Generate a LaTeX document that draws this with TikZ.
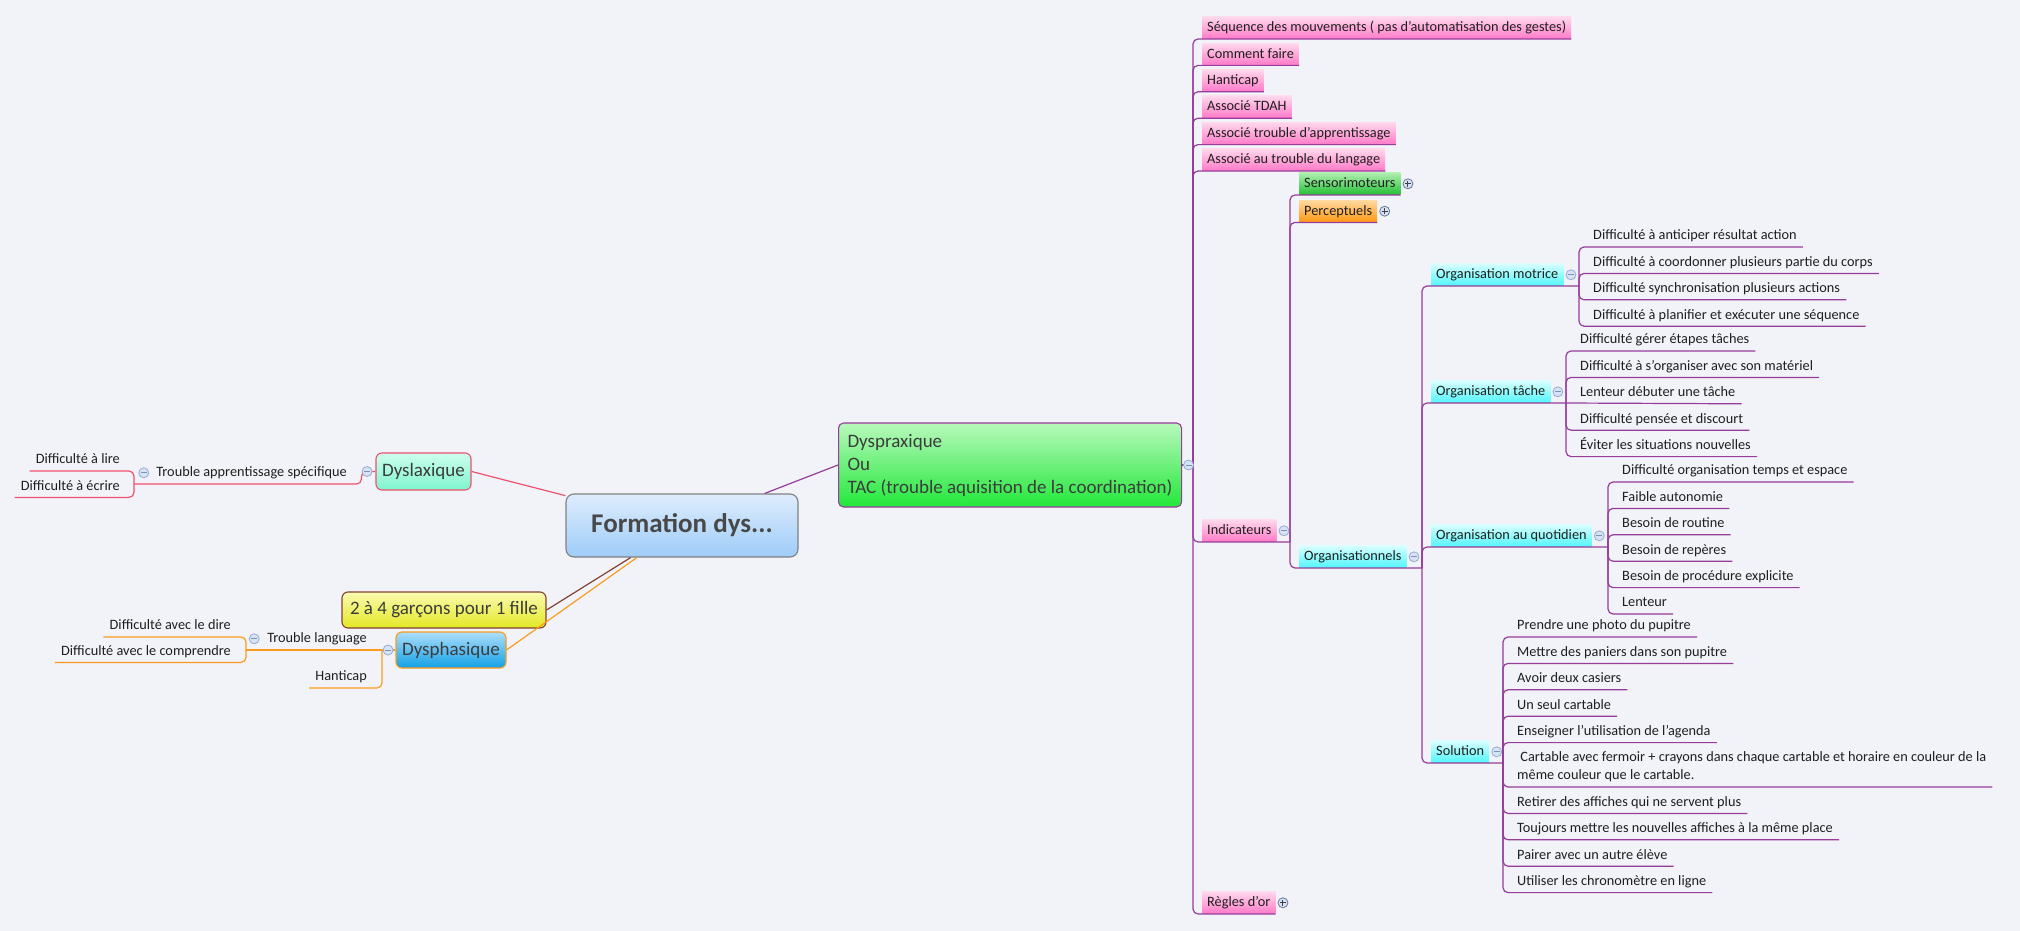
\documentclass[tikz,border=0pt]{standalone}
\usepackage{fontspec}
\setmainfont{Carlito}
\usetikzlibrary{positioning}

\definecolor{bgcol}{RGB}{242,243,248}
\definecolor{plum}{RGB}{150,60,155}
\definecolor{rose}{RGB}{240,80,110}
\definecolor{amber}{RGB}{250,155,30}
\definecolor{umber}{RGB}{130,65,50}
\definecolor{inkgray}{RGB}{60,60,60}
\definecolor{foldfill}{RGB}{214,226,245}
\definecolor{folddraw}{RGB}{150,172,212}

\begin{document}
\begin{tikzpicture}[
    x=1pt, y=-1pt,
    smalltext/.style={font=\fontsize{14.3}{18}\selectfont, text=black!88},
    bigtext/.style={font=\fontsize{19}{23}\selectfont, text=inkgray},
    topic/.style={rectangle, rounded corners=6pt, line width=1.1pt, bigtext, inner sep=0pt},
    tagbox/.style={rectangle, smalltext, inner xsep=5pt, inner ysep=4pt,
                   text height=11pt, text depth=3pt},
    pinkbox/.style={tagbox, top color={rgb,255:red,255;green,216;blue,236},
                    bottom color={rgb,255:red,255;green,122;blue,200}},
    cyanbox/.style={tagbox, top color={rgb,255:red,216;green,255;blue,255},
                    bottom color={rgb,255:red,80;green,246;blue,250}},
    greenbox/.style={tagbox, top color={rgb,255:red,176;green,238;blue,176},
                     bottom color={rgb,255:red,34;green,192;blue,52}},
    orangebox/.style={tagbox, top color={rgb,255:red,255;green,216;blue,160},
                      bottom color={rgb,255:red,255;green,152;blue,18}},
    leafbase/.style={smalltext, inner xsep=6pt, inner ysep=4pt},
    leaf/.style={leafbase, text height=11pt, text depth=3pt},
    fold/.style={circle, draw=folddraw, fill=foldfill, minimum size=10pt,
                 inner sep=0pt, line width=0.8pt},
    foldminus/.style={fold, path picture={
        \draw[folddraw!85!black, line width=1pt]
          ([xshift=-3pt]path picture bounding box.center) -- ([xshift=3pt]path picture bounding box.center);}},
    foldplus/.style={fold, draw=folddraw!70!black, path picture={
        \draw[black!75, line width=1pt]
          ([xshift=-3pt]path picture bounding box.center) -- ([xshift=3pt]path picture bounding box.center)
          ([yshift=-3pt]path picture bounding box.center) -- ([yshift=3pt]path picture bounding box.center);}},
    branch/.style={line width=1.2pt, rounded corners=5pt}
]
\path[use as bounding box, fill=bgcol] (0,0) rectangle (2020,931);

% central topic and main branches
\node[topic, draw=black!50, rounded corners=8pt, minimum width=232pt, minimum height=63pt,
      top color={rgb,255:red,222;green,237;blue,253}, bottom color={rgb,255:red,158;green,204;blue,248},
      font=\fontsize{27}{32}\selectfont\bfseries, text={rgb,255:red,72;green,72;blue,72}]
      (root) at (682,525.5) {Formation dys...};
\node[topic, draw=plum, rounded corners=5pt, minimum width=343pt, minimum height=84pt, align=left,
      inner xsep=7pt,
      top color={rgb,255:red,184;green,249;blue,188}, bottom color={rgb,255:red,34;green,232;blue,58},
      anchor=west] (prax) at (838,465) {Dyspraxique\\Ou\\TAC (trouble aquisition de la coordination)};
\node[topic, draw=rose, minimum width=95pt, minimum height=37pt,
      top color={rgb,255:red,204;green,255;blue,238}, bottom color={rgb,255:red,128;green,244;blue,206}]
      (dysl) at (423.5,471.5) {Dyslaxique};
\node[topic, draw=umber, minimum width=204pt, minimum height=36pt,
      top color={rgb,255:red,250;green,250;blue,176}, bottom color={rgb,255:red,228;green,232;blue,36}]
      (ratio) at (444,610) {2 à 4 garçons pour 1 fille};
\node[topic, draw=amber, minimum width=110pt, minimum height=36pt,
      top color={rgb,255:red,172;green,222;blue,250}, bottom color={rgb,255:red,18;green,160;blue,230}]
      (dysph) at (451,650) {Dysphasique};

% Dyslaxique side
\node[leaf, anchor=south east] (spec) at (353,484) {Trouble apprentissage spécifique};
\node[leaf, anchor=south east] (lire) at (126,471) {Difficulté à lire};
\node[leaf, below=4pt of lire.south east, anchor=north east] (ecrire) {Difficulté à écrire};

% Dysphasique side
\node[leaf, anchor=south east] (tlang) at (373,650) {Trouble language};
\node[leaf, anchor=south east] (handi) at (373,688) {Hanticap};
\node[leaf, anchor=south east] (dire) at (237,637) {Difficulté avec le dire};
\node[leaf, below=3pt of dire.south east, anchor=north east] (compr) {Difficulté avec le comprendre};

% Dyspraxique, first level
\node[pinkbox, anchor=south west] (seq) at (1202,39) {Séquence des mouvements ( pas d'automatisation des gestes)};
\node[pinkbox, below=4pt of seq.south west, anchor=north west] (comment) {Comment faire};
\node[pinkbox, below=4pt of comment.south west, anchor=north west] (hanti) {Hanticap};
\node[pinkbox, below=4pt of hanti.south west, anchor=north west] (tdah) {Associé TDAH};
\node[pinkbox, below=4pt of tdah.south west, anchor=north west] (appr) {Associé trouble d'apprentissage};
\node[pinkbox, below=4pt of appr.south west, anchor=north west] (lang) {Associé au trouble du langage};
\node[pinkbox, anchor=south west] (indic) at (1202,542) {Indicateurs};
\node[pinkbox, anchor=south west] (regles) at (1202,914) {Règles d'or};

% Indicateurs
\node[greenbox, anchor=south west] (senso) at (1299,195) {Sensorimoteurs};
\node[orangebox, below=5pt of senso.south west, anchor=north west] (percep) {Perceptuels};
\node[cyanbox, anchor=south west] (orga) at (1299,568) {Organisationnels};

% Organisationnels
\node[cyanbox, anchor=south west] (motrice) at (1431,286) {Organisation motrice};
\node[cyanbox, anchor=south west] (tache) at (1431,403) {Organisation tâche};
\node[cyanbox, anchor=south west] (quoti) at (1431,547) {Organisation au quotidien};
\node[cyanbox, anchor=south west] (solu) at (1431,763) {Solution};

\node[leaf, anchor=south west] (m1) at (1587,247) {Difficulté à anticiper résultat action};
\node[leaf, below=4pt of m1.south west, anchor=north west] (m2) {Difficulté à coordonner plusieurs partie du corps};
\node[leaf, below=4pt of m2.south west, anchor=north west] (m3) {Difficulté synchronisation plusieurs actions};
\node[leaf, below=4pt of m3.south west, anchor=north west] (m4) {Difficulté à planifier et exécuter une séquence};

\node[leaf, anchor=south west] (t1) at (1574,351) {Difficulté gérer étapes tâches};
\node[leaf, below=4pt of t1.south west, anchor=north west] (t2) {Difficulté à s'organiser avec son matériel};
\node[leaf, below=4pt of t2.south west, anchor=north west] (t3) {Lenteur débuter une tâche};
\node[leaf, below=4pt of t3.south west, anchor=north west] (t4) {Difficulté pensée et discourt};
\node[leaf, below=4pt of t4.south west, anchor=north west] (t5) {Éviter les situations nouvelles};

\node[leaf, anchor=south west] (q1) at (1616,482) {Difficulté organisation temps et espace};
\node[leaf, below=4pt of q1.south west, anchor=north west] (q2) {Faible autonomie};
\node[leaf, below=4pt of q2.south west, anchor=north west] (q3) {Besoin de routine};
\node[leaf, below=4pt of q3.south west, anchor=north west] (q4) {Besoin de repères};
\node[leaf, below=4pt of q4.south west, anchor=north west] (q5) {Besoin de procédure explicite};
\node[leaf, below=4pt of q5.south west, anchor=north west] (q6) {Lenteur};

\node[leaf, anchor=south west] (s1) at (1511,637) {Prendre une photo du pupitre};
\node[leaf, below=4pt of s1.south west, anchor=north west] (s2) {Mettre des paniers dans son pupitre};
\node[leaf, below=4pt of s2.south west, anchor=north west] (s3) {Avoir deux casiers};
\node[leaf, below=4pt of s3.south west, anchor=north west] (s4) {Un seul cartable};
\node[leaf, below=4pt of s4.south west, anchor=north west] (s5) {Enseigner l'utilisation de l'agenda};
\node[leafbase, align=left, minimum height=40pt, below=4pt of s5.south west, anchor=north west] (s6)
     {\ Cartable avec fermoir + crayons dans chaque cartable et horaire en couleur de la\\même couleur que le cartable.};
\node[leaf, below=4pt of s6.south west, anchor=north west] (s7) {Retirer des affiches qui ne servent plus};
\node[leaf, below=4pt of s7.south west, anchor=north west] (s8) {Toujours mettre les nouvelles affiches à la même place};
\node[leaf, below=4pt of s8.south west, anchor=north west] (s9) {Pairer avec un autre élève};
\node[leaf, below=4pt of s9.south west, anchor=north west] (s10) {Utiliser les chronomètre en ligne};

% links from the central topic
\draw[branch, rose]  (root) -- (dysl.east);
\draw[branch, umber] (root) -- (ratio.east);
\draw[branch, amber] (root) -- (dysph.east);
\draw[branch, plum]  (root) -- (prax.west);

% left branches
\coordinate (jspec) at (134,484);
\draw[branch, rose] (dysl.west) -- ++(-14,0) |- (jspec);
\draw[branch, rose] (jspec) |- (lire.south west);
\draw[branch, rose] (jspec) |- (ecrire.south west);

\coordinate (jdys) at (382,650);
\coordinate (jlang) at (246,650);
\draw[branch, amber] (dysph.west) -- (jdys) -- (jlang);
\draw[branch, amber] (jdys) |- (handi.south west);
\draw[branch, amber] (jlang) |- (dire.south west);
\draw[branch, amber] (jlang) |- (compr.south west);

% right branches
\coordinate (j1) at (1193,465);
\coordinate (j2) at (1290,542);
\coordinate (j3) at (1422,568);
\coordinate (j4) at (1579,286);
\coordinate (j5) at (1566,403);
\coordinate (j6) at (1608,547);
\coordinate (j7) at (1503,763);
\draw[branch, plum] (prax.east) -- (j1);
\draw[branch, plum] (j1) |- (seq.south east);
\draw[branch, plum] (j1) |- (comment.south east);
\draw[branch, plum] (j1) |- (hanti.south east);
\draw[branch, plum] (j1) |- (tdah.south east);
\draw[branch, plum] (j1) |- (appr.south east);
\draw[branch, plum] (j1) |- (lang.south east);
\draw[branch, plum] (j1) |- (j2);
\draw[branch, plum] (j1) |- (regles.south east);

\draw[branch, plum] (j2) |- (senso.south east);
\draw[branch, plum] (j2) |- (percep.south east);
\draw[branch, plum] (j2) |- (j3);

\draw[branch, plum] (j3) |- (j4);
\draw[branch, plum] (j3) |- (j5);
\draw[branch, plum] (j3) |- (j6);
\draw[branch, plum] (j3) |- (j7);

\draw[branch, plum] (j4) |- (m1.south east);
\draw[branch, plum] (j4) |- (m2.south east);
\draw[branch, plum] (j4) |- (m3.south east);
\draw[branch, plum] (j4) |- (m4.south east);

\draw[branch, plum] (j5) |- (t1.south east);
\draw[branch, plum] (j5) |- (t2.south east);
\draw[branch, plum] (j5) -- (t3.south east);
\draw[branch, plum] (j5) |- (t4.south east);
\draw[branch, plum] (j5) |- (t5.south east);

\draw[branch, plum] (j6) |- (q1.south east);
\draw[branch, plum] (j6) |- (q2.south east);
\draw[branch, plum] (j6) |- (q3.south east);
\draw[branch, plum] (j6) |- (q4.south east);
\draw[branch, plum] (j6) |- (q5.south east);
\draw[branch, plum] (j6) |- (q6.south east);

\draw[branch, plum] (j7) |- (s1.south east);
\draw[branch, plum] (j7) |- (s2.south east);
\draw[branch, plum] (j7) |- (s3.south east);
\draw[branch, plum] (j7) |- (s4.south east);
\draw[branch, plum] (j7) |- (s5.south east);
\draw[branch, plum] (j7) |- (s6.south east);
\draw[branch, plum] (j7) |- (s7.south east);
\draw[branch, plum] (j7) |- (s8.south east);
\draw[branch, plum] (j7) |- (s9.south east);
\draw[branch, plum] (j7) |- (s10.south east);

% fold markers
\node[foldminus, right=1pt of prax] (fprax) {};
\node[foldminus, left=3pt of dysl] (fdysl) {};
\node[foldminus, left=1pt of spec] (fspec) {};
\node[foldminus, left=2pt of dysph] (fdysph) {};
\node[foldminus, left=1.5pt of tlang] (ftlang) {};
\node[foldminus, right=2pt of indic] (findic) {};
\node[foldplus, right=2pt of senso] (fsenso) {};
\node[foldplus, right=2pt of percep] (fpercep) {};
\node[foldminus, right=2pt of orga] (forga) {};
\node[foldminus, right=2pt of motrice] (fmotrice) {};
\node[foldminus, right=2pt of tache] (ftache) {};
\node[foldminus, right=2pt of quoti] (fquoti) {};
\node[foldminus, right=2pt of solu] (fsolu) {};
\node[foldplus, right=2pt of regles] (fregles) {};
\end{tikzpicture}
\end{document}
